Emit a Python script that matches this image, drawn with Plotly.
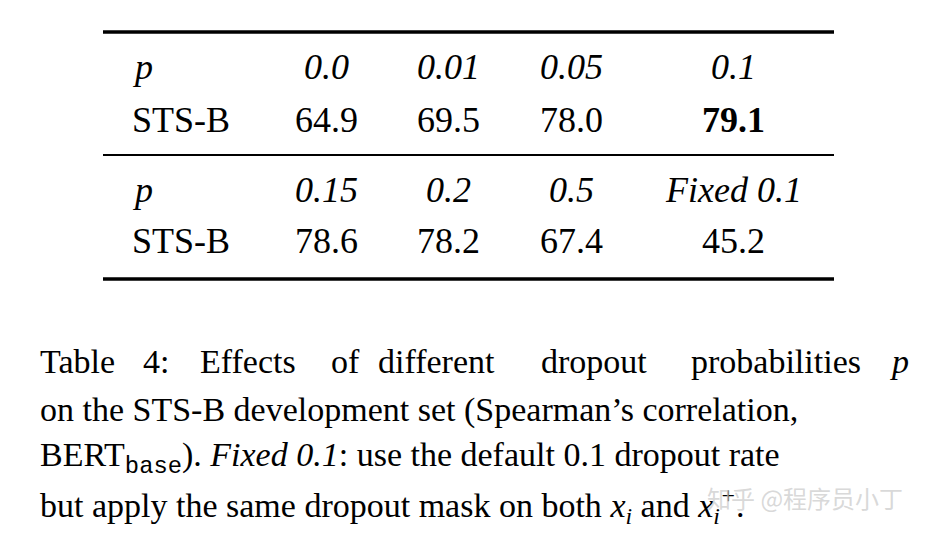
import plotly.graph_objects as go

# table data
p_top = ["0.0", "0.01", "0.05", "0.1"]
sts_top = ["64.9", "69.5", "78.0", "79.1"]
p_bottom = ["0.15", "0.2", "0.5", "Fixed 0.1"]
sts_bottom = ["78.6", "78.2", "67.4", "45.2"]
best_value = "79.1"

col_x = [326, 448, 571, 733]
row_y = [67, 120, 190, 241]

caption_line1 = ["Table", "4:", "Effects", "of", "different", "dropout", "probabilities", "<i>p</i>"]
caption_line1_x = [38, 141, 198, 329, 376, 539, 689, 888]
caption_lines = [
    "on the STS-B development set (Spearman’s correlation,",
    "BERT<sub><span style='font-family:Liberation Mono'>base</span></sub>). <i>Fixed 0.1</i>: use the default 0.1 dropout rate",
    "but apply the same dropout mask on both <i>x<sub>i</sub></i> and <i>x<sub>i</sub><sup>+</sup></i>.",
]
caption_y = [410, 458, 505]

SERIF = "Times New Roman, Liberation Serif, Times, serif"
W, H = 931, 541
OFF = 8  # page margin offset

fig = go.Figure()
fig.add_trace(go.Scatter(x=[0], y=[0], mode="markers", marker=dict(opacity=0), hoverinfo="skip"))

ann = []

def txt(x, y, s, size=36, xanchor="center", color="black"):
    ann.append(dict(x=x - OFF, y=y - OFF, text=s, showarrow=False, xanchor=xanchor, yanchor="middle",
                    font=dict(family=SERIF, size=size, color=color)))

for ry, label, vals, italic in [
    (row_y[0], "<i>p</i>", p_top, True),
    (row_y[1], "STS-B", sts_top, False),
    (row_y[2], "<i>p</i>", p_bottom, True),
    (row_y[3], "STS-B", sts_bottom, False),
]:
    txt(130, ry, label, xanchor="left")
    for cx, v in zip(col_x, vals):
        s = f"<i>{v}</i>" if italic else (f"<b>{v}</b>" if v == best_value else v)
        txt(cx, ry, s)

for x, w in zip(caption_line1_x, caption_line1):
    txt(x, 361, w, size=34, xanchor="left")
for y, line in zip(caption_y, caption_lines):
    txt(38, y, line, size=34, xanchor="left")

# watermark
ann.append(dict(x=905 - OFF, y=497 - OFF, text="知乎 @程序员小丁", showarrow=False, xanchor="right", yanchor="middle",
                font=dict(family="Noto Sans CJK SC", size=24, color="rgba(200,200,200,0.7)")))

shapes = [
    dict(type="line", x0=103 - OFF, x1=834 - OFF, y0=32 - OFF, y1=32 - OFF, line=dict(color="black", width=3.5)),
    dict(type="line", x0=103 - OFF, x1=834 - OFF, y0=155 - OFF, y1=155 - OFF, line=dict(color="black", width=2)),
    dict(type="line", x0=103 - OFF, x1=834 - OFF, y0=279 - OFF, y1=279 - OFF, line=dict(color="black", width=3.5)),
]

fig.update_layout(
    width=W, height=H, margin=dict(l=0, r=0, t=0, b=0),
    paper_bgcolor="white", plot_bgcolor="white", showlegend=False,
    xaxis=dict(range=[0, W], visible=False, fixedrange=True),
    yaxis=dict(range=[H, 0], visible=False, fixedrange=True),
    annotations=ann, shapes=shapes,
)
fig.write_html("out.html")
